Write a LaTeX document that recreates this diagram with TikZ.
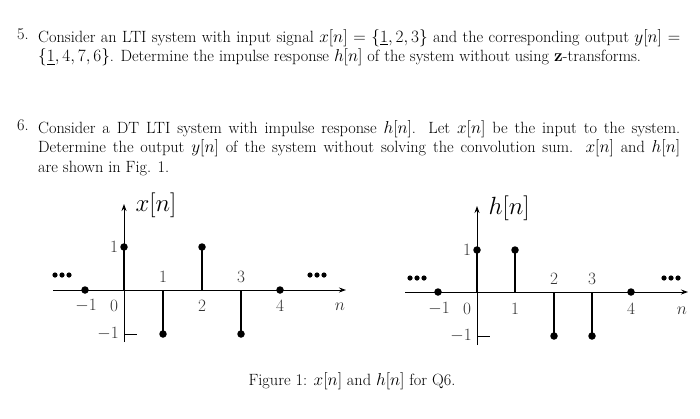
\documentclass[tikz,border=0pt]{standalone}
\usepackage{amsmath,amssymb}
\usetikzlibrary{arrows.meta}
\begin{document}
\begin{tikzpicture}[x=1pt,y=-1pt,
  txt/.style={anchor=north west,inner sep=0pt,text width=642pt,align=justify,font=\fontsize{16.3}{19.5}\selectfont},
  num/.style={inner sep=0pt,font=\fontsize{17}{18}\selectfont,text=black!80},
  stem/.style={line width=2pt},
  ax/.style={line width=1pt,-{Stealth[length=7pt,width=5pt]}},
  dotc/.style={circle,fill=black,inner sep=0pt,minimum size=7.5pt}]
\useasboundingbox (0,0) rectangle (700,418);
\node[txt,text width=20pt] (q5n) at (17,29) {5.};
\node[txt] (q5) at (38,29) {Consider an LTI system with input signal $x[n]=\{\underline{1},2,3\}$ and the corresponding output $y[n]=$\linebreak $\{\underline{1},4,7,6\}$. Determine the impulse response $h[n]$ of the system without using $\mathbf{z}$-transforms.};
\node[txt,text width=20pt] (q6n) at (17,120) {6.};
\node[txt] (q6) at (38,120) {Consider a DT LTI system with impulse response $h[n]$. Let $x[n]$ be the input to the system.\linebreak Determine the output $y[n]$ of the system without solving the convolution sum. $x[n]$ and $h[n]$\linebreak are shown in Fig. 1.};
% left plot
\begin{scope}[shift={(124,290)}]
\draw[ax] (-71,0) -- (222,0);
\draw[ax] (0,52) -- (0,-86);
\node[inner sep=0pt,font=\fontsize{26}{28}\selectfont] (lx) at (32,-85) {$x[n]$};
\draw (0,44) -- (13,44);
\node[num] (lm1) at (-16,44) {$-1$};
\node[num] (l1) at (-10,-43) {$1$};
\draw[stem] (0,0) -- (0,-43) node[dotc] (la) {};
\draw[stem] (39,0) -- (39,44) node[dotc] (lb) {};
\draw[stem] (78,0) -- (78,-43) node[dotc] (lc) {};
\draw[stem] (117,0) -- (117,44) node[dotc] (ld) {};
\node[dotc] (le) at (-39,0) {};
\node[dotc] (lf) at (156,0) {};
\node[num] at (-38,16) {$-1$};
\node[num] at (-10,16) {$0$};
\node[num] at (39,-13) {$1$};
\node[num] at (78,16) {$2$};
\node[num] at (117,-13) {$3$};
\node[num] at (156,16) {$4$};
\node[num] at (216,17) {$n$};
\foreach \x in {-69,-62,-55,186,193,200} \fill (\x,-15) circle (2.6pt);
\end{scope}
% right plot
\begin{scope}[shift={(477,292)}]
\draw[ax] (-72,0) -- (211,0);
\draw[ax] (0,53) -- (0,-86);
\node[inner sep=0pt,font=\fontsize{26}{28}\selectfont] (rh) at (32,-84) {$h[n]$};
\draw (0,44) -- (13,44);
\node[num] at (-16,44) {$-1$};
\node[num] at (-10,-42) {$1$};
\draw[stem] (0,0) -- (0,-42) node[dotc] {};
\draw[stem] (38,0) -- (38,-42) node[dotc] {};
\draw[stem] (77,0) -- (77,44) node[dotc] {};
\draw[stem] (115,0) -- (115,44) node[dotc] {};
\node[dotc] at (-39,0) {};
\node[dotc] at (154,0) {};
\node[num] at (-38,17) {$-1$};
\node[num] at (-10,17) {$0$};
\node[num] at (38,17) {$1$};
\node[num] at (77,-13) {$2$};
\node[num] at (115,-13) {$3$};
\node[num] at (154,17) {$4$};
\node[num] at (205,19) {$n$};
\foreach \x in {-67,-60,-53,187,194,201} \fill (\x,-14) circle (2.6pt);
\end{scope}
\node[inner sep=0pt,font=\fontsize{16.3}{18}\selectfont] (cap) at (352,381) {Figure 1: $x[n]$ and $h[n]$ for Q6.};
\end{tikzpicture}
\end{document}
